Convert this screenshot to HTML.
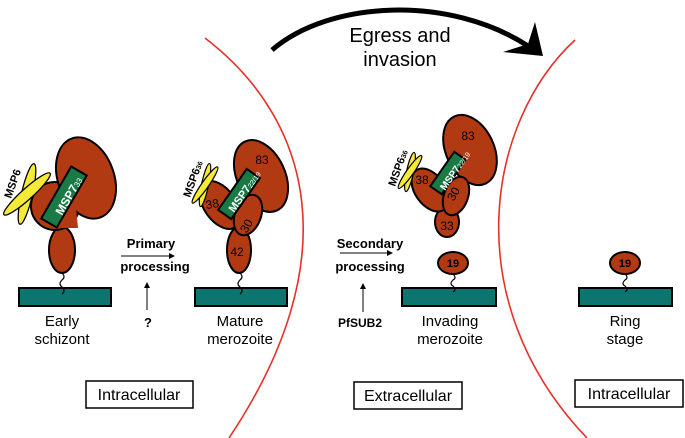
<!DOCTYPE html>
<html><head><meta charset="utf-8"><style>
html,body{margin:0;padding:0;background:#fff;}
svg{display:block;font-family:"Liberation Sans",Arial,sans-serif;}
</style></head><body>
<svg width="685" height="438" viewBox="0 0 685 438" xmlns="http://www.w3.org/2000/svg">
<defs>
<marker id="ah" markerWidth="6" markerHeight="6" refX="5" refY="3" orient="auto"><path d="M0,0 L6,3 L0,6 z" fill="#000"/></marker>
</defs>
<!-- red membranes -->
<path d="M205 38 C312 120 348 260 229 438" fill="none" stroke="#e8302a" stroke-width="1.6"/>
<path d="M575 40 C488 120 455 300 587 438" fill="none" stroke="#e8302a" stroke-width="1.6"/>
<!-- black arc -->
<path d="M272 50 C330 0 450 -5 528 46" fill="none" stroke="#000" stroke-width="5"/>
<path d="M503 52 L543 56 L535 22 L528 44 Z" fill="#000"/>
<text x="400" y="42" font-size="20" text-anchor="middle">Egress and</text>
<text x="400" y="66" font-size="20" text-anchor="middle">invasion</text>

<g stroke="#000" stroke-width="2">
<!-- Early schizont -->
<rect x="19" y="288" width="92" height="18" fill="#0e7470"/>
<path d="M62 273 q4 4 0 7 q-4 4 0 7 q4 4 0 7" fill="none" stroke-width="1.2"/>
<ellipse cx="62" cy="250" rx="13" ry="23" fill="#b23a12"/>
<circle cx="55" cy="206" r="24" fill="#b23a12"/>
<ellipse cx="86" cy="178" rx="28" ry="42" transform="rotate(-20 86 178)" fill="#b23a12"/>
<path d="M50 215 L75 198 L78 228 L60 228 Z" fill="#b23a12" stroke="none"/>
<ellipse cx="27" cy="194" rx="5.5" ry="31" transform="rotate(13 27 194)" fill="#f5ea35" stroke-width="1.3"/>
<ellipse cx="27" cy="194" rx="5.5" ry="31" transform="rotate(48 27 194)" fill="#f5ea35" stroke-width="1.3"/>
<rect x="34" y="188" width="60" height="18" transform="rotate(-60 64 197)" fill="#1a7a45"/>

<!-- Mature merozoite -->
<rect x="195" y="288" width="92" height="18" fill="#0e7470"/>
<path d="M240 273 q4 4 0 7 q-4 4 0 7 q4 4 0 7" fill="none" stroke-width="1.2"/>
<ellipse cx="239" cy="250" rx="12" ry="23" fill="#b23a12"/>
<ellipse cx="261" cy="176" rx="24" ry="38" transform="rotate(-25 261 176)" fill="#b23a12"/>
<ellipse cx="220" cy="205" rx="16" ry="27" transform="rotate(-35 220 205)" fill="#b23a12"/>
<ellipse cx="248" cy="215" rx="13" ry="21" transform="rotate(20 248 215)" fill="#b23a12"/>
<ellipse cx="205" cy="185" rx="3.5" ry="22" transform="rotate(12 205 185)" fill="#f5ea35" stroke-width="1.2"/>
<ellipse cx="205" cy="185" rx="3.5" ry="22" transform="rotate(35 205 185)" fill="#f5ea35" stroke-width="1.2"/>
<rect x="214" y="186" width="50" height="16" transform="rotate(-55 239 194)" fill="#1a7a45"/>

<!-- Invading merozoite -->
<rect x="402" y="288" width="94" height="18" fill="#0e7470"/>
<path d="M453 274 q4 4 0 6 q-4 4 0 6 q4 4 0 6" fill="none" stroke-width="1.2"/>
<ellipse cx="453" cy="263" rx="15" ry="11" fill="#b23a12"/>
<ellipse cx="447" cy="222" rx="12" ry="15" fill="#b23a12"/>
<ellipse cx="470" cy="150" rx="24" ry="37" transform="rotate(-25 470 150)" fill="#b23a12"/>
<ellipse cx="430" cy="190" rx="15" ry="24" transform="rotate(-35 430 190)" fill="#b23a12"/>
<ellipse cx="456" cy="196" rx="12" ry="20" transform="rotate(20 456 196)" fill="#b23a12"/>
<ellipse cx="410" cy="172" rx="3.5" ry="20" transform="rotate(12 410 172)" fill="#f5ea35" stroke-width="1.2"/>
<ellipse cx="410" cy="172" rx="3.5" ry="20" transform="rotate(35 410 172)" fill="#f5ea35" stroke-width="1.2"/>
<rect x="427" y="166" width="42" height="14" transform="rotate(-55 448 173)" fill="#1a7a45"/>

<!-- Ring -->
<rect x="579" y="288" width="93" height="18" fill="#0e7470"/>
<path d="M625 274 q4 4 0 6 q-4 4 0 6 q4 4 0 6" fill="none" stroke-width="1.2"/>
<ellipse cx="625" cy="263" rx="15" ry="11" fill="#b23a12"/>
</g>

<!-- molecule labels -->
<g font-size="12" font-weight="bold" fill="#fff">
<text transform="translate(62 216) rotate(-60)">MSP7<tspan font-size="8" font-weight="normal">33</tspan></text>
<text transform="translate(234 213) rotate(-55)" font-size="11">MSP7<tspan font-size="7" font-weight="normal">22/19</tspan></text>
<text transform="translate(445 191) rotate(-55)" font-size="10">MSP7<tspan font-size="7" font-weight="normal">22/19</tspan></text>
</g>
<g font-size="11" font-weight="bold" fill="#000">
<text transform="translate(11 199) rotate(-70)">MSP6</text>
<text transform="translate(190 198) rotate(-70)">MSP6<tspan font-size="7">36</tspan></text>
<text transform="translate(395 187) rotate(-70)">MSP6<tspan font-size="7">36</tspan></text>
</g>
<g font-size="12" fill="#000" text-anchor="middle">
<text x="262" y="164">83</text>
<text x="213" y="208" transform="rotate(-10 213 208)">38</text>
<text x="250" y="228" transform="rotate(-60 250 228)">30</text>
<text x="237" y="256">42</text>
<text x="468" y="140">83</text>
<text x="422" y="184">38</text>
<text x="457" y="196" transform="rotate(-60 457 196)">30</text>
<text x="447" y="230">33</text>
<text x="453" y="267" font-size="11" font-weight="bold">19</text>
<text x="625" y="267" font-size="11" font-weight="bold">19</text>
</g>

<!-- processing -->
<g font-size="13" font-weight="bold" text-anchor="middle">
<text x="151" y="248">Primary</text>
<text x="155" y="271">processing</text>
<text x="370" y="248">Secondary</text>
<text x="370" y="271">processing</text>
<text x="148" y="327">?</text>
<text x="360" y="327" font-size="12">PfSUB2</text>
</g>
<line x1="121" y1="256" x2="174" y2="256" stroke="#000" stroke-width="1" marker-end="url(#ah)"/>
<line x1="340" y1="253" x2="392" y2="253" stroke="#000" stroke-width="1" marker-end="url(#ah)"/>
<line x1="147" y1="310" x2="147" y2="283" stroke="#000" stroke-width="1" marker-end="url(#ah)"/>
<line x1="363" y1="312" x2="363" y2="284" stroke="#000" stroke-width="1" marker-end="url(#ah)"/>

<g font-size="15" text-anchor="middle">
<text x="62" y="326">Early</text>
<text x="62" y="344">schizont</text>
<text x="240" y="326">Mature</text>
<text x="240" y="344">merozoite</text>
<text x="450" y="326">Invading</text>
<text x="450" y="344">merozoite</text>
<text x="625" y="326">Ring</text>
<text x="625" y="344">stage</text>
</g>
<g fill="#fff" stroke="#000" stroke-width="1.5">
<rect x="86" y="381" width="107" height="27"/>
<rect x="354" y="382" width="108" height="27"/>
<rect x="575" y="380" width="108" height="27"/>
</g>
<g font-size="16" text-anchor="middle">
<text x="139" y="400">Intracellular</text>
<text x="408" y="401">Extracellular</text>
<text x="629" y="399">Intracellular</text>
</g>
</svg>
</body></html>
